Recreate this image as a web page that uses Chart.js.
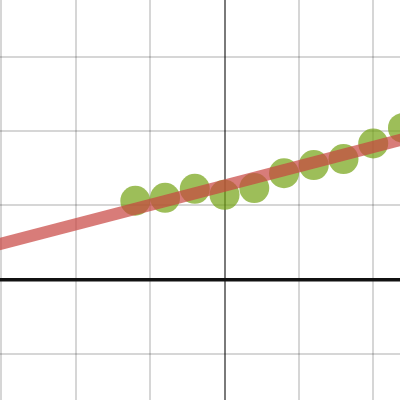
<!DOCTYPE html>
<html>
<head>
<meta charset="utf-8">
<script src="https://cdn.jsdelivr.net/npm/chart.js@4"></script>
<style>
  html, body { margin: 0; padding: 0; background: #fff; }
  #wrap { width: 400px; height: 400px; }
</style>
</head>
<body>
<div id="wrap"><canvas id="chart" width="400" height="400"></canvas></div>
<script>
// points
const pointX = [-1.2, -0.8, -0.4, 0, 0.4, 0.8, 1.2, 1.6, 2.0, 2.4];
const pointY = [1.06, 1.10, 1.22, 1.14, 1.23, 1.43, 1.54, 1.62, 1.83, 2.04];

// fitted line
const lineSlope = 0.26;
const lineIntercept = 1.264;
const lineX = [-3.2, 2.6];

// visible window
const xRange = [-3.02, 2.36];
const yRange = [-1.62, 3.76];

const pts = pointX.map((x, i) => ({ x: x, y: pointY[i] }));
const linePts = lineX.map((x) => ({ x: x, y: lineSlope * x + lineIntercept }));

const gridColor = 'rgba(0,0,0,0.16)';

new Chart(document.getElementById('chart'), {
  type: 'scatter',
  data: {
    datasets: [
      {
        label: 'fit',
        data: linePts,
        showLine: true,
        borderColor: 'rgba(199,68,64,0.7)',
        borderWidth: 12,
        pointRadius: 0,
        borderCapStyle: 'butt',
      },
      {
        label: 'data',
        data: pts,
        backgroundColor: 'rgba(115,162,19,0.7)',
        borderWidth: 0,
        pointRadius: 15,
      },
    ],
  },
  options: {
    responsive: false,
    animation: false,
    layout: { padding: 0, autoPadding: false },
    plugins: {
      legend: { display: false },
      tooltip: { enabled: false },
    },
    scales: {
      x: {
        type: 'linear',
        min: xRange[0],
        max: xRange[1],
        border: { display: false },
        ticks: { display: false, stepSize: 1, includeBounds: false },
        grid: {
          drawTicks: false,
          color: (c) => (c.tick && c.tick.value === 0 ? '#7a7a7a' : gridColor),
          lineWidth: 2,
        },
      },
      y: {
        type: 'linear',
        min: yRange[0],
        max: yRange[1],
        border: { display: false },
        ticks: { display: false, stepSize: 1, includeBounds: false },
        grid: {
          drawTicks: false,
          color: (c) => (c.tick && c.tick.value === 0 ? '#111' : gridColor),
          lineWidth: (c) => (c.tick && c.tick.value === 0 ? 3.5 : 2),
        },
      },
    },
  },
});
</script>
</body>
</html>
